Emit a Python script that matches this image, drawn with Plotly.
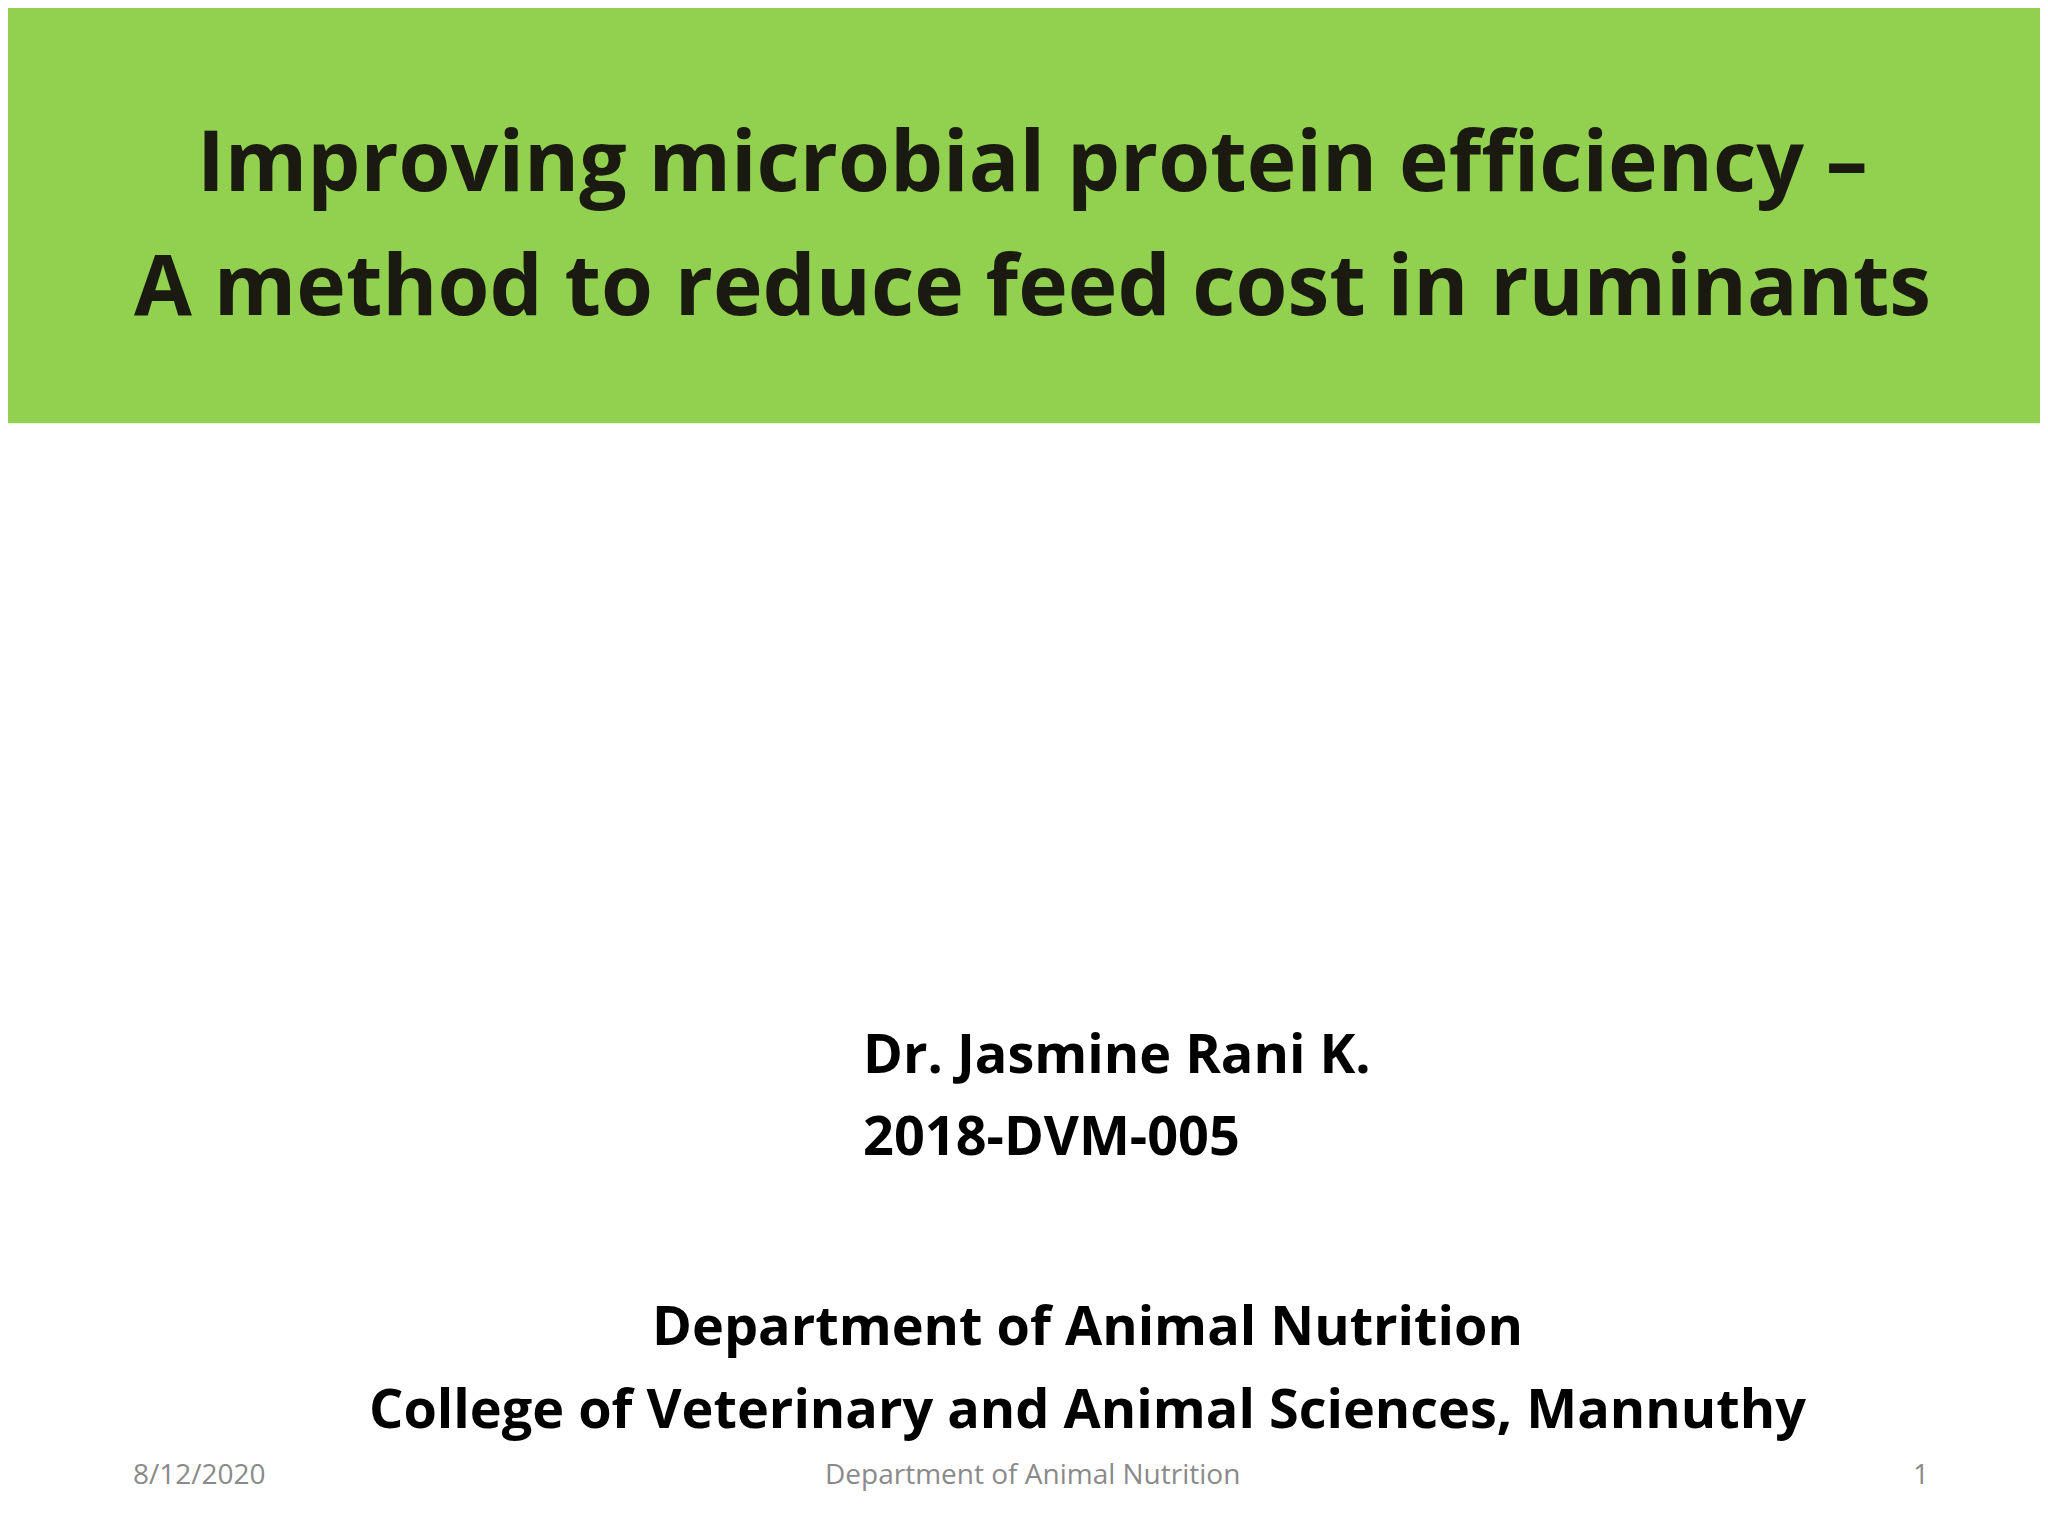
import plotly.graph_objects as go

title_lines = ["Improving microbial protein efficiency –", "A method to reduce feed cost in ruminants"]
author_lines = ["Dr. Jasmine Rani K.", "2018-DVM-005"]
dept_lines = ["Department of Animal Nutrition", "College of Veterinary and Animal Sciences, Mannuthy"]
footer = ["8/12/2020", "Department of Animal Nutrition", "1"]

FONT = "Open Sans"
fig = go.Figure()
fig.add_shape(type="rect", xref="paper", yref="paper", x0=0, x1=1, y0=1-318/1176, y1=1,
              fillcolor="#92D050", line_width=0, layer="below")

def ann(text, x, y, size, xanchor="center", color="#111111", bold=True):
    fig.add_annotation(text=f"<b>{text}</b>" if bold else text, x=x, y=y, xref="paper", yref="paper",
                       xanchor=xanchor, yanchor="middle", showarrow=False,
                       font=dict(family=FONT, size=size, color=color))

for t, y in zip(title_lines, [0.902, 0.821]):
    ann(t, 0.5, y, 84, color="#1a1a10")
for t, y in zip(author_lines, [0.320, 0.267]):
    ann(t, 0.4165, y, 54, xanchor="left", color="#000000")
for t, y in zip(dept_lines, [0.143, 0.089]):
    ann(t, 0.527, y, 54, color="#000000")
ann(footer[0], 0.06, 0.046, 28, xanchor="left", color="#8a8a8a", bold=False)
ann(footer[1], 0.5, 0.046, 28, color="#8a8a8a", bold=False)
ann(footer[2], 0.939, 0.046, 28, xanchor="right", color="#8a8a8a", bold=False)

fig.update_layout(width=2048, height=1536, margin=dict(l=0, r=0, t=0, b=0),
                  paper_bgcolor="white", plot_bgcolor="white",
                  xaxis=dict(visible=False), yaxis=dict(visible=False))
fig.write_html("out.html", config={"displayModeBar": False})
